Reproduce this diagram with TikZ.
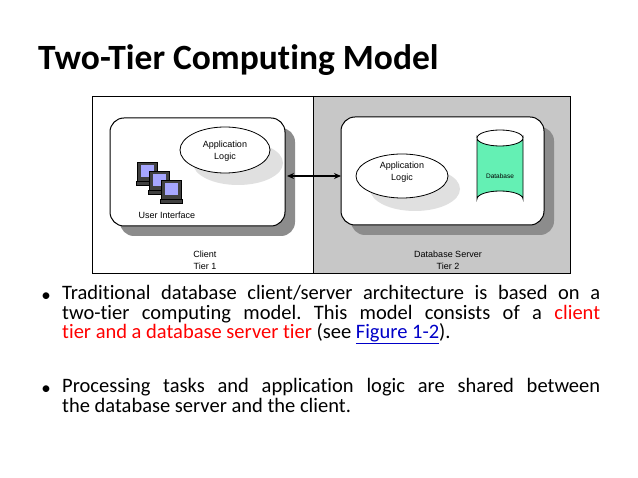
\documentclass[tikz,border=0pt]{standalone}
\usepackage{fontspec}
\setmainfont[Ligatures=NoCommon]{Carlito}
\newfontfamily\arial{Liberation Sans}
\usetikzlibrary{shapes.geometric,arrows.meta}
\definecolor{linkblue}{RGB}{0,0,200}
\definecolor{dbgreen}{RGB}{100,240,180}
\begin{document}
\begin{tikzpicture}[x=1pt,y=-1pt,
  lbl/.style={font=\arial\fontsize{9}{12}\selectfont,align=center,inner sep=0pt},
  tier/.style={rounded corners=14pt,draw=black,line width=1pt,fill=white},
  shadow/.style={rounded corners=14pt,fill=black!45},
  ell/.style={ellipse,draw,line width=0.8pt,fill=white,inner sep=0pt},
  mon/.style={draw=black,fill=black!75,line width=0.4pt},
  body/.style={font=\fontsize{20.5}{19.6}\selectfont\frenchspacing,inner sep=0pt,anchor=north west,text width=538pt,align=justify}]
\useasboundingbox (0,0) rectangle (638,478);
\fill[white] (0,0) rectangle (638,478);
\node[font=\bfseries\fontsize{35.5}{36}\selectfont,anchor=west,inner sep=0pt] (title) at (38,60) {Two-Tier Computing Model};
% frame
\fill[black!22] (313,96) rectangle (570,273);
\draw[line width=0.8pt] (92,96) rectangle (570,273);
\draw[line width=0.8pt] (313,96) -- (313,273);
% left tier
\fill[shadow] (120,128) rectangle (295,236);
\draw[tier] (110,118) rectangle (285,226);
\fill[black!12] (238,163) ellipse (45 and 22);
\node[ell,minimum width=90,minimum height=46] (al1) at (225,150) {};
\node[lbl] at (225,151) {Application\\Logic};
% monitors
\foreach \i in {0,1,2}{
  \begin{scope}[shift={(137+12*\i,162+9*\i)}]
    \draw[mon] (0,0) rectangle (20,19);
    \fill[blue!35!white] (4,3) rectangle (17,15);
    \draw[mon] (-1,19) rectangle (21,23);
  \end{scope}}
\node[lbl] (ui) at (167,215) {User Interface};
% right tier
\fill[shadow] (351,127) rectangle (554,235);
\draw[tier] (341,117) rectangle (544,225);
\fill[black!12] (415,189) ellipse (45 and 22);
\node[ell,minimum width=92,minimum height=44] (al2) at (402,176) {};
\node[lbl] at (402,172) {Application\\Logic};
% database cylinder
\coordinate (db) at (500,168);
\draw[line width=0.8pt,fill=dbgreen] (477,138) -- (477,199) arc[start angle=180,end angle=360,x radius=23,y radius=8] -- (523,138) arc[start angle=0,end angle=180,x radius=23,y radius=8] -- cycle;
\draw[line width=0.8pt] (477,138) arc[start angle=180,end angle=360,x radius=23,y radius=8];
\node[lbl,font=\arial\fontsize{6.5}{7}\selectfont] at (500,176) {Database};
% arrow
\coordinate (a1) at (287,176);
\coordinate (a2) at (341,176);
\draw[{Stealth[length=7pt,width=6pt]}-{Stealth[length=7pt,width=6pt]},line width=1.5pt] (a1) -- (a2);
\node[lbl] (c1) at (205,260) {Client\\Tier 1};
\node[lbl] (c2) at (448,260) {Database Server\\Tier 2};
% bullets
\node[font=\fontsize{19}{19}\selectfont,inner sep=0pt] at (46,297) {\textbullet};
\node[body] (b1) at (62,285) {Traditional database client/server architecture is based on a\linebreak two-tier computing model. This model consists of a \textcolor{red}{client}\linebreak \textcolor{red}{tier and a database server tier} (see \textcolor{linkblue}{\underline{Figure 1-2}}).};
\node[font=\fontsize{19}{19}\selectfont,inner sep=0pt] at (46,390) {\textbullet};
\node[body] (b2) at (62,378) {Processing tasks and application logic are shared between\linebreak the database server and the client.};
\end{tikzpicture}
\end{document}
